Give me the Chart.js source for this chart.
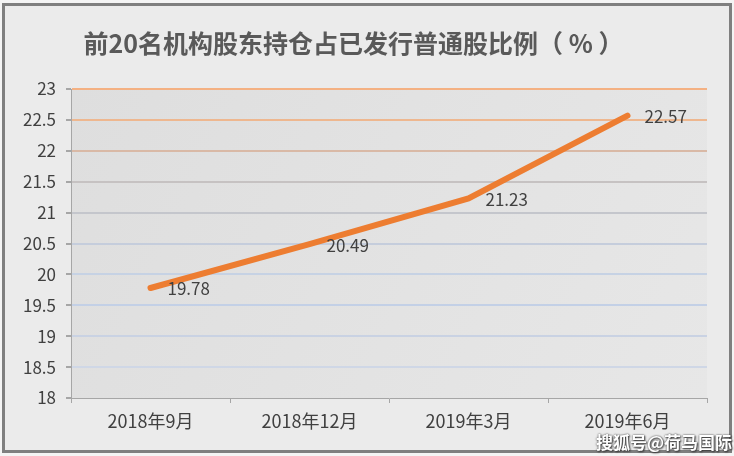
<!DOCTYPE html>
<html lang="zh">
<head>
    <meta charset="UTF-8">
    <title>前20名机构股东持仓占已发行普通股比例</title>
    <script src="https://cdn.jsdelivr.net/npm/chart.js"></script>
    <style>
        body {
            margin: 0;
            padding: 0;
            background: #f4f4f4;
            font-family: "Noto Sans CJK SC", sans-serif;
        }
        .frame {
            position: absolute;
            left: 2px;
            top: 3px;
            width: 724px;
            height: 444px;
            border: 3px solid #7f7f7f;
            background: #ebebeb;
        }
        .wrap {
            position: absolute;
            left: 0;
            top: 0;
            width: 734px;
            height: 456px;
        }
        .mark {
            position: absolute;
            left: 596px;
            top: 429px;
            color: #fff;
            font-size: 17px;
            font-weight: bold;
            text-shadow: 0 0 2px #333, 1px 1px 2px #333;
        }
    </style>
</head>
<body>
    <div class="frame"></div>
    <div class="wrap"><canvas id="holdChart" width="734" height="456"></canvas></div>
    <div class="mark">搜狐号@荷马国际</div>

    <script>
        // data
        const quarters = ['2018年9月', '2018年12月', '2019年3月', '2019年6月'];
        const holdPct = [19.78, 20.49, 21.23, 22.57];
        const yTicks = [18, 18.5, 19, 19.5, 20, 20.5, 21, 21.5, 22, 22.5, 23];

        // gridline colour changes from blue-grey at the bottom to orange at the top
        const gridColours = {
            18.5: '#cfd7e6', 19: '#c9d2e3', 19.5: '#c3d0e6', 20: '#c6d2e4', 20.5: '#c5cddc',
            21: '#c4c6cc', 21.5: '#c6c2c2', 22: '#d9b9a6', 22.5: '#eeb78f', 23: '#f4b183'
        };

        // plot background + value labels
        const extras = {
            id: 'extras',
            beforeDraw(chart) {
                const { ctx, chartArea: a } = chart;
                const g = ctx.createLinearGradient(a.left, a.top, a.right, a.bottom);
                g.addColorStop(0, '#dedede');
                g.addColorStop(1, '#e7e7e7');
                ctx.save();
                ctx.fillStyle = g;
                ctx.fillRect(a.left, a.top, a.right - a.left, a.bottom - a.top);
                ctx.restore();
            },
            afterDatasetsDraw(chart) {
                const { ctx } = chart;
                const pts = chart.getDatasetMeta(0).data;
                ctx.save();
                ctx.font = '17px "Noto Sans CJK SC", sans-serif';
                ctx.fillStyle = '#404040';
                ctx.textAlign = 'left';
                ctx.textBaseline = 'middle';
                pts.forEach((p, i) => {
                    ctx.fillText(holdPct[i].toFixed(2), p.x + 17, p.y + 1);
                });
                ctx.restore();
            }
        };

        new Chart(document.getElementById('holdChart'), {
            type: 'line',
            data: {
                labels: quarters,
                datasets: [{
                    data: holdPct,
                    borderColor: '#ed7d31',
                    borderWidth: 6,
                    borderCapStyle: 'round',
                    pointRadius: 0,
                    tension: 0
                }]
            },
            options: {
                responsive: false,
                animation: false,
                layout: { padding: { left: 0, right: 27, top: 0, bottom: 0 } },
                plugins: {
                    legend: { display: false },
                    tooltip: { enabled: false },
                    title: {
                        display: true,
                        text: '前20名机构股东持仓占已发行普通股比例（ % ）',
                        color: '#595959',
                        font: { family: '"Noto Sans CJK SC", sans-serif', size: 25, weight: 'bold' },
                        padding: { top: 28, bottom: 31 }
                    }
                },
                scales: {
                    x: {
                        offset: true,
                        grid: {
                            offset: true,
                            drawOnChartArea: false,
                            tickLength: 5,
                            tickColor: '#a6a6a6'
                        },
                        border: { color: '#a6a6a6', width: 1 },
                        ticks: {
                            color: '#404040',
                            padding: 7,
                            font: { family: '"Noto Sans CJK SC", sans-serif', size: 18 }
                        },
                        afterFit(scale) { scale.height = 58; }
                    },
                    y: {
                        min: 18,
                        max: 23,
                        afterBuildTicks(scale) { scale.ticks = yTicks.map(v => ({ value: v })); },
                        grid: {
                            color: ctx => ctx.tick && gridColours[ctx.tick.value] ? gridColours[ctx.tick.value] : 'rgba(0,0,0,0)',
                            lineWidth: 2,
                            tickLength: 5,
                            tickColor: '#a6a6a6'
                        },
                        border: { color: '#a6a6a6', width: 1 },
                        ticks: {
                            color: '#404040',
                            padding: 10,
                            font: { family: '"Noto Sans CJK SC", sans-serif', size: 17 },
                            callback: v => String(v)
                        },
                        afterFit(scale) { scale.width = 71; }
                    }
                }
            },
            plugins: [extras]
        });
    </script>
</body>
</html>
